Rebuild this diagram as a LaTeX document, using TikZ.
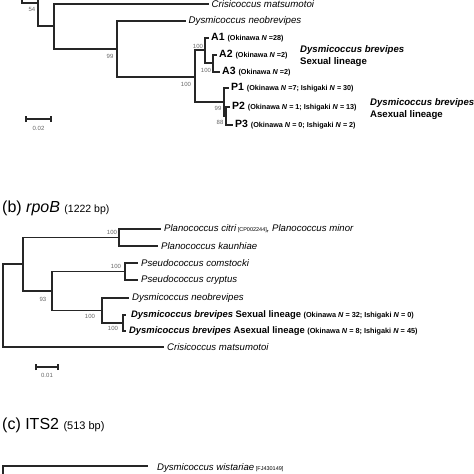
\documentclass[tikz,border=0pt]{standalone}
\usepackage{fontspec}
\setmainfont{Liberation Sans}
\newcommand\mysmb{\fontsize{7.2}{8}\selectfont\bfseries}
\begin{document}
\begin{tikzpicture}[x=1pt,y=-1pt,
  br/.style={line width=1.35pt, draw=black!85, line cap=rect},
  bs/.style={font=\fontsize{6}{7}\selectfont, text=black!60, inner sep=0},
  tipa/.style={anchor=west, inner sep=0, xshift=3.5pt, font=\fontsize{9.7}{11}\selectfont\itshape},
  tipb/.style={anchor=west, inner sep=0, xshift=4pt, font=\fontsize{9.6}{11}\selectfont\itshape},
  hap/.style={anchor=west, inner sep=0, xshift=3pt, font=\fontsize{10.5}{12}\selectfont\bfseries},
  side/.style={anchor=west, inner sep=0, font=\fontsize{9.6}{12}\selectfont\bfseries},
  head/.style={anchor=west, inner sep=0, font=\fontsize{16}{18}\selectfont},
  sbar/.style={line width=1.2pt, draw=black!85},
  sbl/.style={font=\fontsize{6}{7}\selectfont, text=black!60, inner sep=0}
]
\useasboundingbox (0,0) rectangle (474,474);

% ---------- (a) ----------
\coordinate (a0) at (22,0);
\coordinate (n1top) at (38,0);
\coordinate (n1) at (38,3);
\coordinate (n2) at (54,26);
\coordinate (tCri) at (208,4);
\coordinate (n3) at (117,49);
\coordinate (tNeo) at (185,21);
\coordinate (n4) at (195,77);
\coordinate (nA) at (205,50);
\coordinate (tA1) at (208,38);
\coordinate (nA2) at (213,63);
\coordinate (tA2) at (216,55);
\coordinate (tA3) at (219,72);
\coordinate (nP) at (224,102);
\coordinate (tP1) at (228,88);
\coordinate (nP2) at (226,116);
\coordinate (tP2) at (229,107);
\coordinate (tP3) at (232,125);

\draw[br] (a0) |- (n1);
\draw[br] (n1top) -- (n1);
\draw[br] (n1) |- (n2);
\draw[br] (n2) |- (tCri);
\draw[br] (n2) |- (n3);
\draw[br] (n3) |- (tNeo);
\draw[br] (n3) |- (n4);
\draw[br] (n4) |- (nA);
\draw[br] (n4) |- (nP);
\draw[br] (nA) |- (tA1);
\draw[br] (nA) |- (nA2);
\draw[br] (nA2) |- (tA2);
\draw[br] (nA2) |- (tA3);
\draw[br] (nP) |- (tP1);
\draw[br] (nP) |- (nP2);
\draw[br] (nP2) |- (tP2);
\draw[br] (nP2) |- (tP3);

\node[tipa] (lCri) at (tCri) {Crisicoccus matsumotoi};
\node[tipa] (lNeo) at (tNeo) {Dysmicoccus neobrevipes};
\node[hap] (lA1) at (tA1) {A1 {\mysmb(Okinawa \textit{N} =28)}};
\node[hap] (lA2) at (tA2) {A2 {\mysmb(Okinawa \textit{N} =2)}};
\node[hap] (lA3) at (tA3) {A3 {\mysmb(Okinawa \textit{N} =2)}};
\node[hap] (lP1) at (tP1) {P1 {\mysmb(Okinawa \textit{N} =7; Ishigaki \textit{N} = 30)}};
\node[hap] (lP2) at (tP2) {P2 {\mysmb(Okinawa \textit{N} = 1; Ishigaki \textit{N} = 13)}};
\node[hap] (lP3) at (tP3) {P3 {\mysmb(Okinawa \textit{N} = 0; Ishigaki \textit{N} = 2)}};

\node[side] (sx1) at (300,50) {\itshape Dysmicoccus brevipes};
\node[side] (sx2) at (300,62) {Sexual lineage};
\node[side] (ax1) at (370,103) {\itshape Dysmicoccus brevipes};
\node[side] (ax2) at (370,115) {Asexual lineage};

\node[bs] (bs1) at (32,9) {54};
\node[bs] (bs2) at (110,56) {99};
\node[bs] (bs3) at (186,84) {100};
\node[bs] (bs4) at (198,46) {100};
\node[bs] (bs5) at (206,70) {100};
\node[bs] (bs6) at (218,108) {99};
\node[bs] (bs7) at (220,122) {88};

\coordinate (sa1) at (26,119);
\coordinate (sa2) at (51,119);
\draw[sbar] (sa1) -- (sa2);
\draw[sbar] ([yshift=-3pt]sa1) -- ([yshift=3pt]sa1);
\draw[sbar] ([yshift=-3pt]sa2) -- ([yshift=3pt]sa2);
\node[sbl] (sal) at (38.5,128) {0.02};

% ---------- (b) ----------
\node[head] (hb) at (2,208) {(b) \textit{rpoB} {\fontsize{10.5}{12}\selectfont(1222 bp)}};

\coordinate (bR) at (3,305.5);
\coordinate (b1) at (23,264);
\coordinate (b2) at (119,237.5);
\coordinate (tPc) at (160,229);
\coordinate (tPk) at (157,246);
\coordinate (b3) at (52,291);
\coordinate (b4) at (125,271.5);
\coordinate (tPs1) at (137,263);
\coordinate (tPs2) at (137,280);
\coordinate (b5) at (102,310.5);
\coordinate (tNb) at (128,298);
\coordinate (b6) at (123,323);
\coordinate (tSx) at (125,315);
\coordinate (tAx) at (125,331);
\coordinate (tCb) at (163,347);

\draw[br] (bR) |- (b1);
\draw[br] (bR) |- (tCb);
\draw[br] (b1) |- (b2);
\draw[br] (b1) |- (b3);
\draw[br] (b2) |- (tPc);
\draw[br] (b2) |- (tPk);
\draw[br] (b3) |- (b4);
\draw[br] (b3) |- (b5);
\draw[br] (b4) |- (tPs1);
\draw[br] (b4) |- (tPs2);
\draw[br] (b5) |- (tNb);
\draw[br] (b5) |- (b6);
\draw[br] (b6) |- (tSx);
\draw[br] (b6) |- (tAx);

\node[tipb] (lPc) at (tPc) {Planococcus citri\,{\upshape\fontsize{5.5}{6}\selectfont[CP002244]}, Planococcus minor};
\node[tipb] (lPk) at (tPk) {Planococcus kaunhiae};
\node[tipb] (lPs1) at (tPs1) {Pseudococcus comstocki};
\node[tipb] (lPs2) at (tPs2) {Pseudococcus cryptus};
\node[tipb] (lNb) at (tNb) {Dysmicoccus neobrevipes};
\node[tipb,xshift=2pt,font=\fontsize{9.4}{11}\selectfont\bfseries] (lSx) at (tSx) {\textit{Dysmicoccus brevipes} Sexual lineage {\fontsize{7.3}{8}\selectfont(Okinawa \textit{N} = 32; Ishigaki \textit{N} = 0)}};
\node[tipb,font=\fontsize{9.4}{11}\selectfont\bfseries] (lAx) at (tAx) {\textit{Dysmicoccus brevipes} Asexual lineage {\fontsize{7.3}{8}\selectfont(Okinawa \textit{N} = 8; Ishigaki \textit{N} = 45)}};
\node[tipb] (lCb) at (tCb) {Crisicoccus matsumotoi};

\node[bs] (bb1) at (112,232) {100};
\node[bs] (bb2) at (116,266) {100};
\node[bs] (bb3) at (43,299) {93};
\node[bs] (bb4) at (90,316) {100};
\node[bs] (bb5) at (113,328) {100};

\coordinate (sb1) at (36,367);
\coordinate (sb2) at (58,367);
\draw[sbar] (sb1) -- (sb2);
\draw[sbar] ([yshift=-3pt]sb1) -- ([yshift=3pt]sb1);
\draw[sbar] ([yshift=-3pt]sb2) -- ([yshift=3pt]sb2);
\node[sbl] (sbl) at (47,375) {0.01};

% ---------- (c) ----------
\node[head] (hc) at (2,425) {(c) ITS2 {\fontsize{11}{12}\selectfont(513 bp)}};
\coordinate (cR) at (3,480);
\coordinate (tW) at (147,466);
\draw[br] (cR) |- (tW);
\node[tipb,xshift=6pt] (lW) at ([yshift=-2pt]tW) {Dysmicoccus wistariae\,{\upshape\fontsize{5.5}{6}\selectfont[FJ430149]}};
\end{tikzpicture}
\end{document}
